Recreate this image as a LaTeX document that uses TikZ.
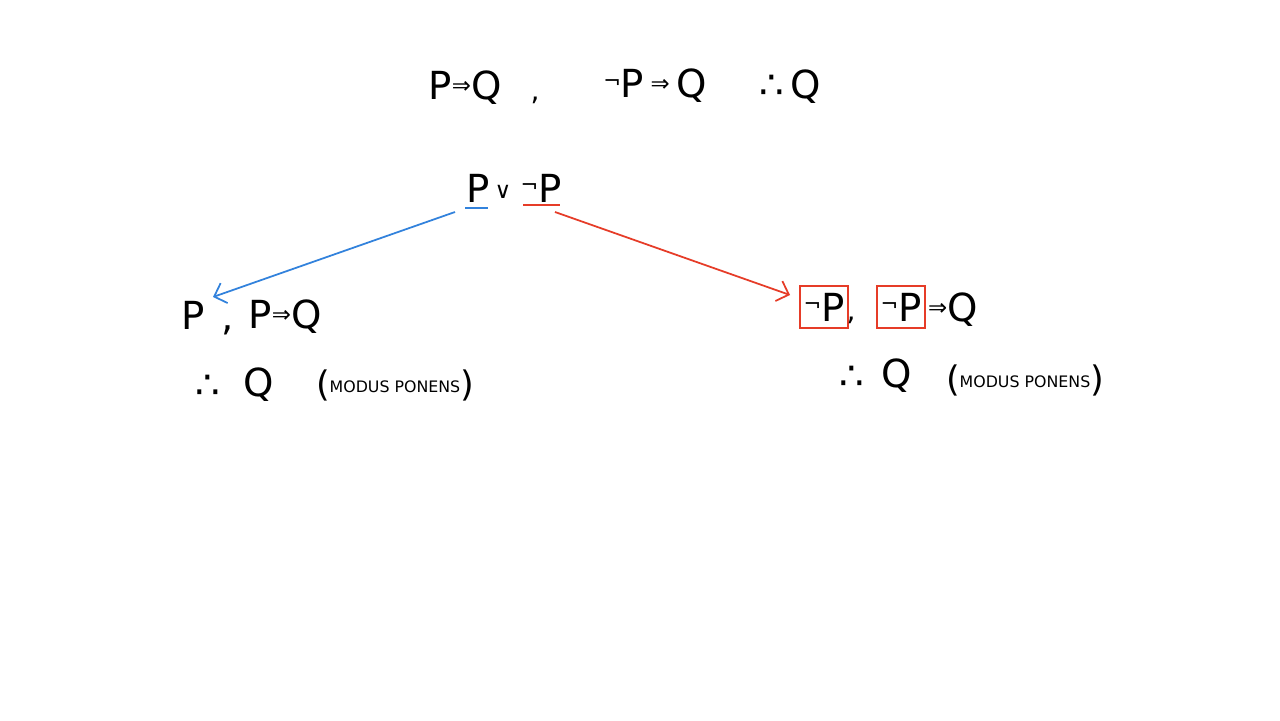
\documentclass[tikz,border=0pt]{standalone}
\usepackage{fontspec}
\setmainfont{DejaVu Sans}
\usetikzlibrary{arrows.meta}
\definecolor{penblue}{RGB}{50,130,220}
\definecolor{penred}{RGB}{230,60,40}
\newcommand{\ngs}{\raisebox{0.45ex}{\fontsize{12}{12}\selectfont ¬}}
\newcommand{\imps}{\raisebox{0.3ex}{\fontsize{13}{13}\selectfont ⇒}}
\newcommand{\mpon}{\raisebox{-0.4ex}{\fontsize{20}{24}\selectfont(}MODUS PONENS\raisebox{-0.4ex}{\fontsize{20}{24}\selectfont)}}
\begin{document}
\begin{tikzpicture}[x=0.02cm,y=-0.02cm,
  mid/.style={font=\fontsize{22}{26}\selectfont, inner sep=1pt},
  small/.style={font=\fontsize{9}{11}\selectfont, inner sep=1pt},
  bluearrow/.style={draw=penblue, line width=1pt, -{Straight Barb[length=6pt,width=12pt]}},
  redarrow/.style={draw=penred, line width=1pt, -{Straight Barb[length=6pt,width=12pt]}},
  redbox/.style={draw=penred, line width=1pt, inner xsep=2pt, inner ysep=4pt}]
\fill[white] (0,0) rectangle (1280,720);
\useasboundingbox (0,0) rectangle (1280,720);
% top line
\node[mid] (t1) at (465,88) {P\imps Q};
\node[mid, font=\fontsize{16}{16}\selectfont] (c1) at (535,100) {,};
\node[mid] (t2) at (655,86) {\ngs P\,\imps\,Q};
\node[mid] (t3) at (790,87) {∴\,Q};
% middle
\node[mid] (pl) at (478,188) {P};
\node[mid, font=\fontsize{13}{13}\selectfont] (vee) at (503,192) {∨};
\node[mid] (np) at (541,188) {\ngs P};
\draw[penblue, line width=1pt] (465,208) -- (488,208);
\draw[penred, line width=1pt] (523,205) -- (560,205);
\coordinate (bs) at (455,212);
\coordinate (rs) at (555,212);
% left
\node[mid] (lp) at (193,315) {P};
\node[mid] (lc) at (228,330) {,};
\node[mid] (lpq) at (285,317) {P\imps Q};
\node[mid] (lth) at (208,387) {∴};
\node[mid] (lq) at (259,385) {Q};
\node[small] (lmp) at (395,385) {\mpon};
\coordinate (le) at (213,297);
\draw[bluearrow] (bs) -- (le);
% right
\node[mid, redbox] (rb1) at (824,307) {\ngs P};
\node[mid, font=\fontsize{16}{16}\selectfont] (rc) at (851,320) {,};
\node[mid, redbox] (rb2) at (901,307) {\ngs P};
\node[mid] (rpq) at (953,310) {\imps Q};
\node[mid] (rth) at (852,378) {∴};
\node[mid] (rq) at (897,376) {Q};
\node[small] (rmp) at (1025,380) {\mpon};
\coordinate (re) at (790,295);
\draw[redarrow] (rs) -- (re);
\end{tikzpicture}
\end{document}
